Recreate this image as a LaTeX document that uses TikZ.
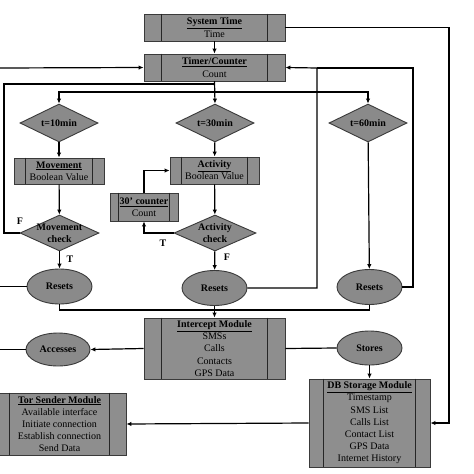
\documentclass[tikz,border=0pt]{standalone}
\usepackage{fontspec}
\setmainfont{Liberation Serif}
\usetikzlibrary{arrows.meta,shapes.geometric}
\definecolor{fillg}{HTML}{8E8E8E}
\definecolor{fillh}{HTML}{8A8A8A}
\definecolor{bordc}{HTML}{3A3A3A}
\tikzset{
  modbox/.style={draw=bordc, line width=0.9pt, fill=fillg, rectangle, inner sep=0pt,
    align=center, font=\fontsize{10}{12.2}\selectfont},
  dia/.style={draw=bordc, line width=0.9pt, fill=fillh, diamond, inner sep=0pt},
  ell/.style={draw=bordc, line width=0.9pt, fill=fillh, ellipse, inner sep=0pt,
    font=\fontsize{10}{12}\selectfont\bfseries},
  lbl/.style={font=\fontsize{10}{12}\selectfont\bfseries, align=center, inner sep=0pt},
  conn/.style={line width=1.2pt, black},
  arr/.style={conn, -{Latex[length=5pt,width=4.5pt]}},
  pline/.style={draw=black!85, line width=0.9pt}
}
\newcommand\sidepanels[2]{\draw[pline] ([xshift=#2]#1.north west) -- ([xshift=#2]#1.south west)
  ([xshift=-#2]#1.north east) -- ([xshift=-#2]#1.south east);}
\newcommand\hd[1]{\underline{\textbf{#1}}}
\begin{document}
\begin{tikzpicture}[x=1pt,y=-1pt]
\useasboundingbox (0,0) rectangle (474,474);
\begin{scope}
\clip (0,0) rectangle (474,474);
% module boxes
\node[modbox, minimum width=141pt, minimum height=27pt] (st) at (214.5,27.5) {\hd{System Time}\\Time};
\node[modbox, minimum width=141pt, minimum height=27pt] (tc) at (214.5,67.5) {\hd{Timer/Counter}\\Count};
\node[modbox, minimum width=90pt, minimum height=26pt] (mov) at (59,171) {\hd{Movement}\\Boolean Value};
\node[modbox, minimum width=89pt, minimum height=27pt] (act) at (214.5,170.5) {\hd{Activity}\\Boolean Value};
\node[modbox, minimum width=68pt, minimum height=28pt] (cnt) at (144,207) {\hd{30' counter}\\Count};
\node[modbox, minimum width=141pt, minimum height=61pt] (intc) at (214.5,348.5) {\hd{Intercept Module}\\SMSs\\Calls\\Contacts\\GPS Data};
\node[modbox, minimum width=121pt, minimum height=88pt] (db) at (369.5,423) {\hd{DB Storage Module}\\Timestamp\\SMS List\\Calls List\\Contact List\\GPS Data\\Internet History};
\node[modbox, minimum width=133pt, minimum height=62pt] (tor) at (59.5,424) {\hd{Tor Sender Module}\\Available interface\\Initiate connection\\Establish connection\\Send Data};
\sidepanels{st}{18pt}
\sidepanels{tc}{18pt}
\sidepanels{mov}{12pt}
\sidepanels{act}{12pt}
\sidepanels{cnt}{9pt}
\sidepanels{intc}{18pt}
\sidepanels{db}{15pt}
\sidepanels{tor}{17pt}
% diamonds
\node[dia, minimum width=78pt, minimum height=38pt] (t10) at (59,123) {};
\node[lbl] (t10t) at (t10) {t=10min};
\node[dia, minimum width=78pt, minimum height=38pt] (t30) at (215,123) {};
\node[lbl] (t30t) at (t30) {t=30min};
\node[dia, minimum width=78pt, minimum height=38pt] (t60) at (368,123) {};
\node[lbl] (t60t) at (t60) {t=60min};
\node[dia, minimum width=79pt, minimum height=36pt] (mc) at (59.5,233) {};
\node[lbl] (mct) at (mc) {Movement\\check};
\node[dia, minimum width=82pt, minimum height=36pt] (ac) at (215,233) {};
\node[lbl] (act2) at (ac) {Activity\\check};
% ellipses
\node[ell, minimum width=65pt, minimum height=35pt] (rs1) at (59.5,286.5) {Resets};
\node[ell, minimum width=65pt, minimum height=35pt] (rs2) at (214.5,288) {Resets};
\node[ell, minimum width=65pt, minimum height=35pt] (rs3) at (369.5,287) {Resets};
\node[ell, minimum width=64pt, minimum height=33pt] (acc) at (58,349.5) {Accesses};
\node[ell, minimum width=65pt, minimum height=34pt] (sto) at (369.5,348) {Stores};
% free ends and junctions
\coordinate (inL) at (0,68);
\coordinate (rsL) at (0,286.5);
\coordinate (accL) at (0,349.5);
\coordinate (split) at (214.5,92);
\coordinate (join) at (214.5,310);
% connectors
\draw[arr] (st) -- (tc);
\draw[arr] (inL) -- (tc.west);
\draw[conn] (mc.west) -| (4,84) -| (tc.south);
\draw[arr] (tc.south) -- (t30.north);
\draw[arr] (split) -| (t10.north);
\draw[arr] (split) -| (t60.north);
\draw[arr] (t10) -- (mov);
\draw[arr] (t30) -- (act);
\draw[arr] (t60) -- (rs3);
\draw[arr] (mov) -- (mc);
\draw[arr] (act) -- (ac);
\draw[arr] (ac.west) -| (cnt.south);
\draw[arr] (cnt.north) |- (act.west);
\draw[arr] (mc) -- (rs1);
\draw[arr] (ac) -- (rs2);
\draw[conn] (rs1.west) -- (rsL);
\draw[arr] (rs2.east) -| (317,68) -- (tc.east);
\draw[conn] (rs3.east) -| (413,68) -- (317,68);
\draw[conn] (rs1.south) |- (join) -| (rs3.south);
\draw[conn] (rs2.south) -- (join);
\draw[arr] (join) -- (intc.north);
\draw[arr] (intc.west) -- (acc.east);
\draw[conn, line width=1.8pt] (acc.west) -- (accL);
\draw[conn] (intc.east) -- (sto.west);
\draw[arr] (sto) -- (db);
\draw[arr] (db.west) -- (tor.east);
\draw[arr] (st.east) -| (449,423) -- (db.east);
% branch labels
\node[lbl] (f1) at (20,221) {F};
\node[lbl] (t1) at (70,259) {T};
\node[lbl] (t2) at (163,243) {T};
\node[lbl] (f2) at (227,257) {F};
\end{scope}
\end{tikzpicture}
\end{document}
